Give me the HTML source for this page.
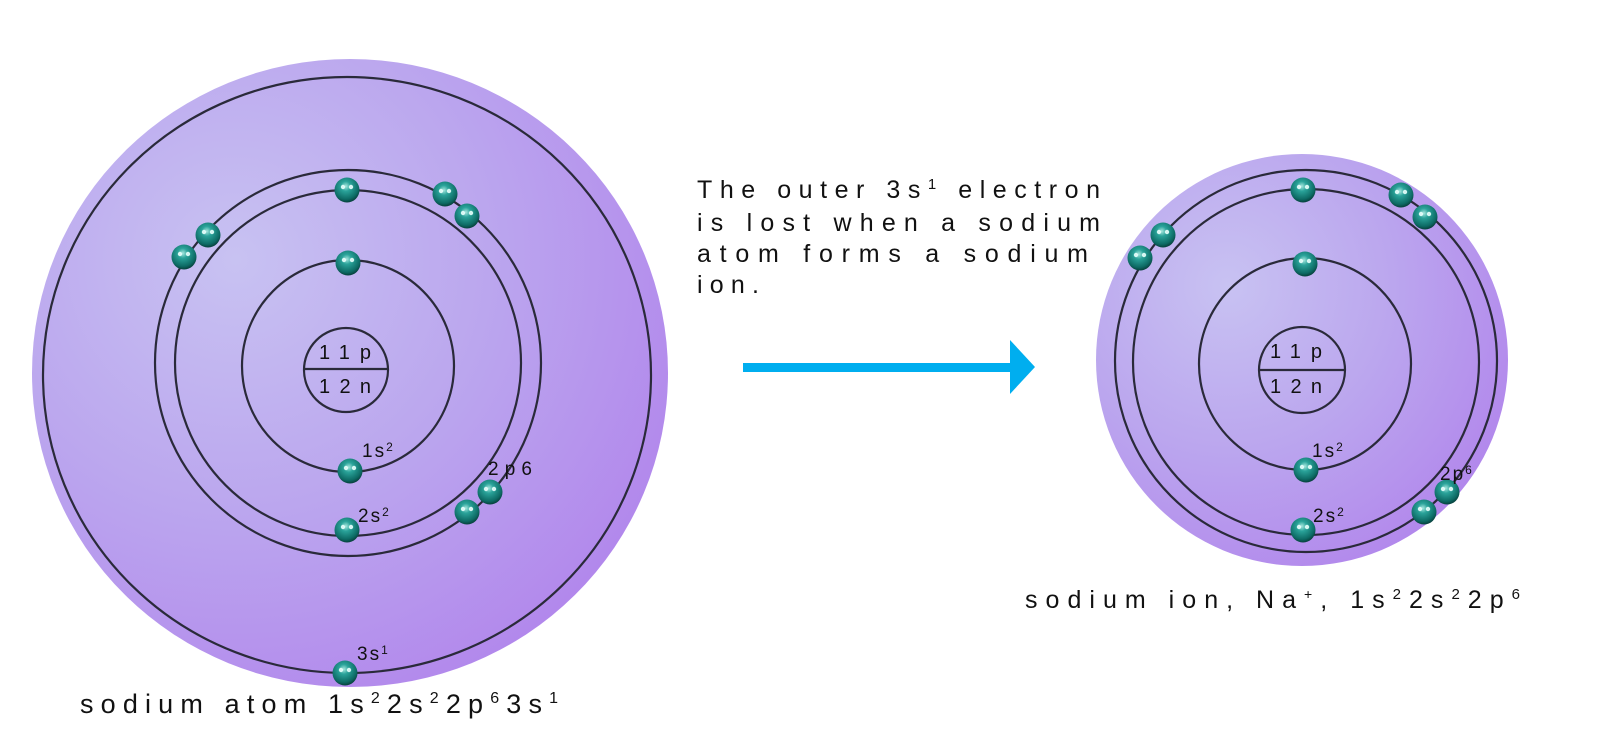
<!DOCTYPE html>
<html><head><meta charset="utf-8"><style>
html,body{margin:0;padding:0;background:#fff;width:1600px;height:741px;overflow:hidden}
svg{display:block}
text{font-family:"Liberation Sans","DejaVu Sans",sans-serif;fill:#111}
</style></head><body>
<svg width="1600" height="741" viewBox="0 0 1600 741" xmlns="http://www.w3.org/2000/svg">
<defs>
<radialGradient id="bg" cx="0.32" cy="0.32" r="0.8">
<stop offset="0" stop-color="#c8c2f2"/>
<stop offset="0.5" stop-color="#bba6ee"/>
<stop offset="1" stop-color="#b184ec"/>
</radialGradient>
<radialGradient id="el" cx="0.45" cy="0.35" r="0.65">
<stop offset="0" stop-color="#a8e8e0"/>
<stop offset="0.3" stop-color="#2aa39a"/>
<stop offset="0.8" stop-color="#0d6a64"/>
<stop offset="1" stop-color="#07403c"/>
</radialGradient>
<g id="e"><circle r="12.5" fill="url(#el)"/><circle cx="-4" cy="-3" r="2.2" fill="#e8fffc" opacity="0.9"/><circle cx="4" cy="-3" r="2.2" fill="#e8fffc" opacity="0.9"/></g>
</defs>

<!-- LEFT ATOM -->
<ellipse cx="350" cy="373" rx="318" ry="314" fill="url(#bg)"/>
<g fill="none" stroke="#2a2a3a" stroke-width="2.2">
<ellipse cx="347" cy="375" rx="304" ry="298"/>
<circle cx="348" cy="363" r="193"/>
<circle cx="348" cy="363" r="173"/>
<circle cx="348" cy="366" r="106"/>
<circle cx="346" cy="370" r="42"/>
<line x1="304" y1="369" x2="388" y2="369"/>
</g>
<text x="319" y="359" font-size="20" textLength="52">11p</text>
<text x="319" y="393" font-size="20" textLength="52">12n</text>
<use href="#e" x="347" y="190"/>
<use href="#e" x="445" y="194"/>
<use href="#e" x="467" y="216"/>
<use href="#e" x="208" y="235"/>
<use href="#e" x="184" y="257"/>
<use href="#e" x="348" y="263"/>
<use href="#e" x="350" y="471"/>
<use href="#e" x="347" y="530"/>
<use href="#e" x="490" y="492"/>
<use href="#e" x="467" y="512"/>
<use href="#e" x="345" y="673"/>
<text x="362" y="457" font-size="19" letter-spacing="2">1s<tspan font-size="12" dy="-6">2</tspan></text>
<text x="358" y="522" font-size="19" letter-spacing="2">2s<tspan font-size="12" dy="-6">2</tspan></text>
<text x="488" y="475" font-size="19" textLength="44">2p6</text>
<text x="357" y="660" font-size="19" letter-spacing="2">3s<tspan font-size="12" dy="-6">1</tspan></text>
<text x="80" y="713" font-size="27" textLength="478" lengthAdjust="spacing">sodium atom 1s<tspan font-size="16" dy="-10">2</tspan><tspan dy="10">2s</tspan><tspan font-size="16" dy="-10">2</tspan><tspan dy="10">2p</tspan><tspan font-size="16" dy="-10">6</tspan><tspan dy="10">3s</tspan><tspan font-size="16" dy="-10">1</tspan></text>

<!-- MIDDLE TEXT -->
<text x="697" y="198" font-size="25" textLength="403" lengthAdjust="spacing">The outer 3s<tspan font-size="15" dy="-9">1</tspan><tspan dy="9"> electron</tspan></text>
<text x="697" y="231" font-size="25" textLength="403">is lost when a sodium</text>
<text x="697" y="262" font-size="25" textLength="391">atom forms a sodium</text>
<text x="697" y="293" font-size="25" textLength="62">ion.</text>

<!-- ARROW -->
<rect x="743" y="363" width="272" height="9" fill="#00aeef"/>
<polygon points="1010,340 1035,367 1010,394" fill="#00aeef"/>

<!-- RIGHT ATOM -->
<circle cx="1302" cy="360" r="206" fill="url(#bg)"/>
<g fill="none" stroke="#2a2a3a" stroke-width="2.2">
<circle cx="1306" cy="361" r="191"/>
<circle cx="1306" cy="362" r="173"/>
<circle cx="1305" cy="364" r="106"/>
<circle cx="1302" cy="370" r="43"/>
<line x1="1259" y1="370" x2="1345" y2="370"/>
</g>
<text x="1270" y="358" font-size="20" textLength="52">11p</text>
<text x="1270" y="393" font-size="20" textLength="52">12n</text>
<use href="#e" x="1303" y="190"/>
<use href="#e" x="1401" y="195"/>
<use href="#e" x="1425" y="217"/>
<use href="#e" x="1163" y="235"/>
<use href="#e" x="1140" y="258"/>
<use href="#e" x="1305" y="264"/>
<use href="#e" x="1306" y="470"/>
<use href="#e" x="1303" y="530"/>
<use href="#e" x="1447" y="492"/>
<use href="#e" x="1424" y="512"/>
<text x="1312" y="457" font-size="19" letter-spacing="2">1s<tspan font-size="12" dy="-6">2</tspan></text>
<text x="1313" y="522" font-size="19" letter-spacing="2">2s<tspan font-size="12" dy="-6">2</tspan></text>
<text x="1440" y="480" font-size="19" letter-spacing="2">2p<tspan font-size="12" dy="-6">6</tspan></text>
<text x="1025" y="608" font-size="25" textLength="495" lengthAdjust="spacing">sodium ion, Na<tspan font-size="14" dy="-9">+</tspan><tspan dy="9">, 1s</tspan><tspan font-size="15" dy="-9">2</tspan><tspan dy="9">2s</tspan><tspan font-size="15" dy="-9">2</tspan><tspan dy="9">2p</tspan><tspan font-size="15" dy="-9">6</tspan></text>
</svg>
</body></html>
